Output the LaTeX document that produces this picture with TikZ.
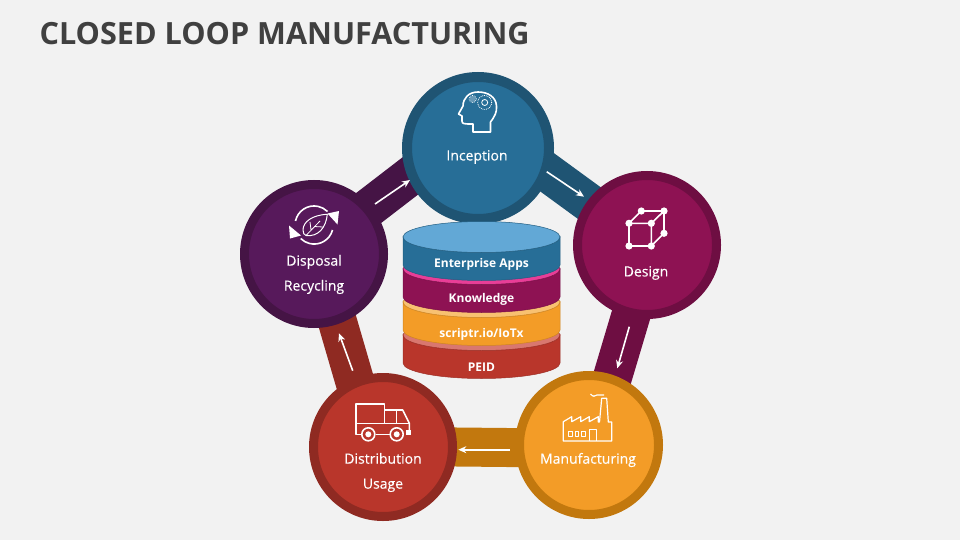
\documentclass[tikz,border=0pt]{standalone}
\usepackage{fontspec}
\setmainfont{Open Sans}
\newfontfamily\discfont[FakeBold=0.25]{Open Sans}
\usetikzlibrary{arrows.meta,backgrounds}
\definecolor{pagegray}{HTML}{F2F2F2}
\definecolor{titlegray}{HTML}{404040}
\definecolor{blueout}{HTML}{1F5473}
\definecolor{bluein}{HTML}{276E97}
\definecolor{bluelip}{HTML}{62A8D6}
\definecolor{plumout}{HTML}{6E0E42}
\definecolor{plumin}{HTML}{8E1253}
\definecolor{plumlip}{HTML}{E83E97}
\definecolor{amberout}{HTML}{C2780E}
\definecolor{amberin}{HTML}{F39C27}
\definecolor{amberlip}{HTML}{F8C171}
\definecolor{redout}{HTML}{8F2A22}
\definecolor{redin}{HTML}{B9362B}
\definecolor{redlip}{HTML}{D9776F}
\definecolor{violetout}{HTML}{451445}
\definecolor{violetin}{HTML}{57195B}
\tikzset{
  disc/.style 2 args={circle,draw=#1,fill=#2,line width=9pt,minimum size=139pt,inner sep=0pt},
  linkbar/.style={line width=39pt,shorten >=-15pt,shorten <=-15pt},
  flowarrow/.style={white,line width=1.6pt,-{Stealth[length=8pt,width=7pt]}},
  disclabel/.style={white,align=center,font=\discfont\fontsize{14}{14}\selectfont},
  layerlabel/.style={white,font=\fontsize{12}{12}\selectfont\bfseries},
  icon/.style={white,line width=1.6pt,line join=round},
  thinicon/.style={white,line width=.8pt,line join=round}
}
\begin{document}
\begin{tikzpicture}[x=1pt,y=-1pt]
\useasboundingbox (0,0) rectangle (960,540);
\node (title) [anchor=west,text=titlegray,font=\fontsize{30.6}{30.6}\selectfont\bfseries] at (36,34) {CLOSED LOOP MANUFACTURING};
% five stations
\node (inception) [disc={blueout}{bluein},minimum size=142pt,line width=10pt] at (478,148) {};
\node (design) [disc={plumout}{plumin}] at (647,245) {};
\node (manufacturing) [disc={amberout}{amberin}] at (589,445) {};
\node (distribution) [disc={redout}{redin}] at (383,447) {};
\node (disposal) [disc={violetout}{violetin}] at (314,254) {};
% bars under the stations
\begin{scope}[on background layer]
\fill[pagegray] (0,0) rectangle (960,540);
\draw[linkbar,blueout] (inception.-20) -- (design.144);
\draw[linkbar,plumout] (design.-103) -- (manufacturing.71);
\draw[linkbar,amberout] (manufacturing.182) -- (distribution.0);
\draw[linkbar,redout] (distribution.113) -- (disposal.-71);
\draw[linkbar,violetout] (disposal.40) -- (inception.203);
\end{scope}
% arrows on the bars
\coordinate (a1) at (546.7,171.7);
\coordinate (b1) at (584,196.7);
\coordinate (a2) at (629.3,326.7);
\coordinate (b2) at (617.3,368.3);
\coordinate (a3) at (510,449.7);
\coordinate (b3) at (458.3,449.7);
\coordinate (a4) at (352.7,370.7);
\coordinate (b4) at (339,333.3);
\coordinate (a5) at (375,204);
\coordinate (b5) at (410,180);
\foreach \n in {1,...,5}
  \draw[flowarrow] (a\n) -- (b\n);
% stack in the middle
\foreach \ly/\side/\lip/\ty/\txt/\nm in {
  335/redin/redlip/367/PEID/peid,
  302/amberin/amberlip/334/scriptr.io\slash IoTx/scriptr,
  269/plumin/plumlip/299/Knowledge/knowledge,
  237/bluein/bluelip/264/Enterprise Apps/apps}{
  \filldraw[fill=\side,draw=\side!85!black,line width=.5pt] (403,\ly) -- (403,\ly+28)
    arc[start angle=180,end angle=360,x radius=78.5pt,y radius=15.5pt] -- (560,\ly)
    arc[start angle=0,end angle=-180,x radius=78.5pt,y radius=15.5pt] -- cycle;
  \filldraw[fill=\lip,draw=\side!85!black,line width=.5pt] (481.5,\ly) ellipse [x radius=78.5pt,y radius=15.5pt];
  \node (\nm) [layerlabel] at (481.5,\ty) {\txt};
}
% station labels
\node (inceptiontext) [disclabel] at (477,157) {Inception};
\node (designtext) [disclabel] at (646,273) {Design};
\node (manufacturingtext) [disclabel] at (588,460) {Manufacturing};
\node (distributiontext) [disclabel] at (383,472.5) {Distribution\\[11pt]Usage};
\node (disposaltext) [disclabel] at (314,274.5) {Disposal\\[11pt]Recycling};
% head
\draw[icon] (473,132) -- (490.5,132) -- (490.5,122)
  .. controls (495,116) and (497,112) .. (496.5,106)
  .. controls (496,97) and (488,92) .. (478,92)
  .. controls (469,92) and (463,98) .. (463,106)
  -- (458.5,114) -- (462,116) -- (462,121)
  .. controls (462,124) and (464,124) .. (473,124) -- cycle;
\draw[thinicon,densely dotted] (472.7,99) circle (3.6pt) (484.7,102.5) circle (7pt);
\draw[thinicon] (484.7,102.5) circle (3pt);
\fill[white,opacity=.3] (472.7,99) circle (3pt);
% cube
\draw[icon] (629,223.3) rectangle (651.3,246) (629,223.3) -- (641.3,211) -- (664,211) -- (651.3,223.3)
  (664,211) -- (664,233.3) -- (651.3,246);
\foreach \p in {(629,223.3),(651.3,223.3),(629,246),(651.3,246),(641.3,211),(664,211),(664,233.3)}
  \fill[white] \p circle (3.6pt);
% factory
\draw[icon,line width=1.2pt] (563.3,441) -- (563.3,421.7) -- (571.7,416.7) -- (571.7,421.7) -- (580.7,416.7) -- (580.7,421.7)
  -- (589.3,416.7) -- (589.3,421.7) -- (598.3,416.7) -- (598.3,422) -- (599.5,422) -- (601.7,398.3) -- (606.7,398.3) -- (608.3,422)
  -- (611.7,422) -- (611.7,441) -- cycle;
\draw[icon,line width=1.2pt] (589.3,441) -- (589.3,429.3) -- (596.7,429.3) -- (596.7,441);
\foreach \wx in {568.5,575.2,581.8}
  \draw[icon,line width=1.2pt] (\wx,431.5) rectangle +(3.6,5);
\draw[icon,line width=1.2pt] (590.5,394) .. controls (593,397) and (595,396.5) .. (597,395)
  .. controls (599,393.5) and (601,396.5) .. (604,395);
% truck
\draw[icon] (356,404) rectangle (384.3,423.3);
\draw[icon] (384.3,410) -- (402.7,410) -- (409.3,423.3) -- (409.3,433);
\draw[icon,line width=1pt] (396,410) -- (396,423.3) (384.3,423.3) -- (409.3,423.3);
\draw[icon] (356,423.3) -- (356,434.3) -- (361,434.3) (375.5,434.3) -- (389.5,434.3);
\foreach \wx in {368.3,396.7}{
  \draw[icon] (\wx,434.3) circle (6.5pt);
  \fill[white] (\wx,434.3) circle (3pt);
}
\fill[white] (406,430) rectangle (411,435);
% leaf and arrows
\draw[icon] (295.5,221) arc[start angle=168,end angle=45,radius=19pt];
\draw[icon] (332.5,230) arc[start angle=-15,end angle=-135,radius=19pt];
\fill[white] (327.5,213.5) -- (339,211) -- (337.5,224.5) -- cycle;
\fill[white] (289,225.5) -- (301,235.5) -- (290,238.5) -- cycle;
\draw[thinicon,line width=1pt] (327.3,214.3) .. controls (312,215) and (303,222) .. (303,230)
  .. controls (303,233) and (304,235) .. (306,235.5)
  .. controls (318,237) and (326,228) .. (327.3,214.3) -- cycle;
\draw[thinicon] (306,235.5) -- (320,221) (311,230) -- (310,222) (314,226.5) -- (323,227);
\end{tikzpicture}
\end{document}
